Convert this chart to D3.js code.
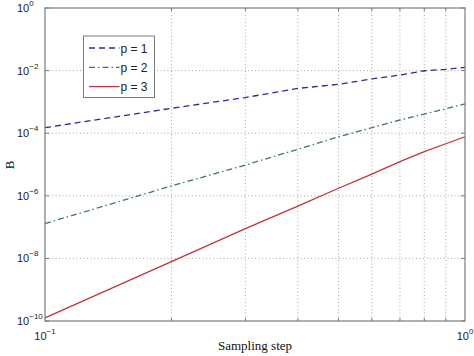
<!DOCTYPE html>
<html>
<head>
<meta charset="utf-8">
<script src="https://cdn.jsdelivr.net/npm/d3@7/dist/d3.min.js"></script>
<style>
  html, body { margin: 0; padding: 0; background: #fff; }
  svg { display: block; }
</style>
</head>
<body>
<svg id="chart" width="474" height="356"></svg>
<script>
// ---- data ----
const steps = [0.1, 0.2, 0.3, 0.4, 0.5, 0.6, 0.7, 0.8, 0.9, 1.0];
const seriesP1 = [1.5e-4, 6.25e-4, 1.38e-3, 2.7e-3, 3.65e-3, 5.4e-3, 7.2e-3, 9.9e-3, 1.1e-2, 1.27e-2];
const seriesP2 = [1.3e-7, 2.06e-6, 9.6e-6, 3.06e-5, 7.7e-5, 1.5e-4, 2.64e-4, 4.1e-4, 6.0e-4, 8.6e-4];
const seriesP3 = [1.25e-10, 7.85e-9, 8.9e-8, 4.7e-7, 1.74e-6, 4.9e-6, 1.23e-5, 2.56e-5, 4.6e-5, 7.7e-5];
const seriesNames = ["p = 1", "p = 2", "p = 3"];
const yTickExps = [0, -2, -4, -6, -8, -10];
const xTickExps = [-1, 0];
const xGridValues = [0.2, 0.3, 0.4, 0.5, 0.6, 0.7, 0.8, 0.9];
const xLabel = "Sampling step";
const yLabel = "B";

// ---- layout ----
const svg = d3.select("#chart");
const L = 45, R = 465, T = 8, B = 321;
const x = d3.scaleLog().domain([0.1, 1]).range([L, R]);
const y = d3.scaleLog().domain([1e-10, 1]).range([B, T]);

const axisColor = "#7a7a7a";
const gridColor = "#a8a8a8";
const colors = ["#2c2c96", "#3f7a4c", "#c2333d"];
const dashes = ["6,4", "6,3,1.5,3", null];

// grid
const grid = svg.append("g");
grid.selectAll("line.vx").data(xGridValues).join("line")
  .attr("x1", d => x(d)).attr("x2", d => x(d))
  .attr("y1", T).attr("y2", B)
  .attr("stroke", gridColor).attr("stroke-width", 1)
  .attr("stroke-dasharray", "1,2.5");
grid.selectAll("line.hy").data(yTickExps.slice(1, -1)).join("line")
  .attr("x1", L).attr("x2", R)
  .attr("y1", d => y(Math.pow(10, d))).attr("y2", d => y(Math.pow(10, d)))
  .attr("stroke", gridColor).attr("stroke-width", 1)
  .attr("stroke-dasharray", "1,2.5");

// ticks (inside)
const ticks = svg.append("g").attr("stroke", axisColor).attr("stroke-width", 1);
xGridValues.forEach(v => {
  ticks.append("line").attr("x1", x(v)).attr("x2", x(v)).attr("y1", B).attr("y2", B - 3);
  ticks.append("line").attr("x1", x(v)).attr("x2", x(v)).attr("y1", T).attr("y2", T + 3);
});
yTickExps.forEach(e => {
  const yy = y(Math.pow(10, e));
  ticks.append("line").attr("x1", L).attr("x2", L + 4).attr("y1", yy).attr("y2", yy);
  ticks.append("line").attr("x1", R).attr("x2", R - 4).attr("y1", yy).attr("y2", yy);
});

// series
const line = d3.line().x(d => x(d[0])).y(d => y(d[1]));
const allSeries = [seriesP1, seriesP2, seriesP3];
allSeries.forEach((s, i) => {
  svg.append("path")
    .datum(steps.map((st, j) => [st, s[j]]))
    .attr("d", line)
    .attr("fill", "none")
    .attr("stroke", colors[i])
    .attr("stroke-width", 1.3)
    .attr("stroke-dasharray", dashes[i]);
});

// box
svg.append("rect").attr("x", L).attr("y", T).attr("width", R - L).attr("height", B - T)
  .attr("fill", "none").attr("stroke", axisColor).attr("stroke-width", 1.2);

// y tick labels
const font = "'Liberation Sans', Arial, Helvetica, sans-serif";
yTickExps.forEach(e => {
  const yy = y(Math.pow(10, e));
  const t = svg.append("text").attr("x", 17).attr("y", yy + 4)
    .attr("font-family", font).attr("font-size", 11).attr("fill", "#222");
  t.append("tspan").text("10");
  t.append("tspan").attr("dy", -6).attr("font-size", 8).text(e === 0 ? "0" : "\u2212" + (-e));
});

// x tick labels
xTickExps.forEach(e => {
  const t = svg.append("text").attr("x", x(Math.pow(10, e))).attr("y", 340)
    .attr("text-anchor", "middle")
    .attr("font-family", font).attr("font-size", 11).attr("fill", "#222");
  t.append("tspan").text("10");
  t.append("tspan").attr("dy", -6).attr("font-size", 8).text(e === 0 ? "0" : "\u2212" + (-e));
});

// axis labels
svg.append("text").attr("x", 255).attr("y", 350).attr("text-anchor", "middle")
  .attr("font-family", "'Liberation Serif', 'Times New Roman', serif").attr("font-size", 13)
  .attr("fill", "#111").text(xLabel);
svg.append("text").attr("transform", "translate(14,165) rotate(-90)").attr("text-anchor", "middle")
  .attr("font-family", "'Liberation Serif', 'Times New Roman', serif").attr("font-size", 13)
  .attr("fill", "#111").text(yLabel);

// legend
const lg = svg.append("g");
lg.append("rect").attr("x", 83.5).attr("y", 36).attr("width", 71).attr("height", 61.5)
  .attr("fill", "#fff").attr("stroke", axisColor).attr("stroke-width", 1);
seriesNames.forEach((name, i) => {
  const yy = 48 + i * 19.3;
  lg.append("line").attr("x1", 89).attr("x2", 119.5).attr("y1", yy).attr("y2", yy)
    .attr("stroke", colors[i]).attr("stroke-width", 1.3).attr("stroke-dasharray", dashes[i]);
  lg.append("text").attr("x", 120.5).attr("y", yy + 4.5)
    .attr("font-family", font).attr("font-size", 12).attr("fill", "#222").text(name);
});
</script>
</body>
</html>
